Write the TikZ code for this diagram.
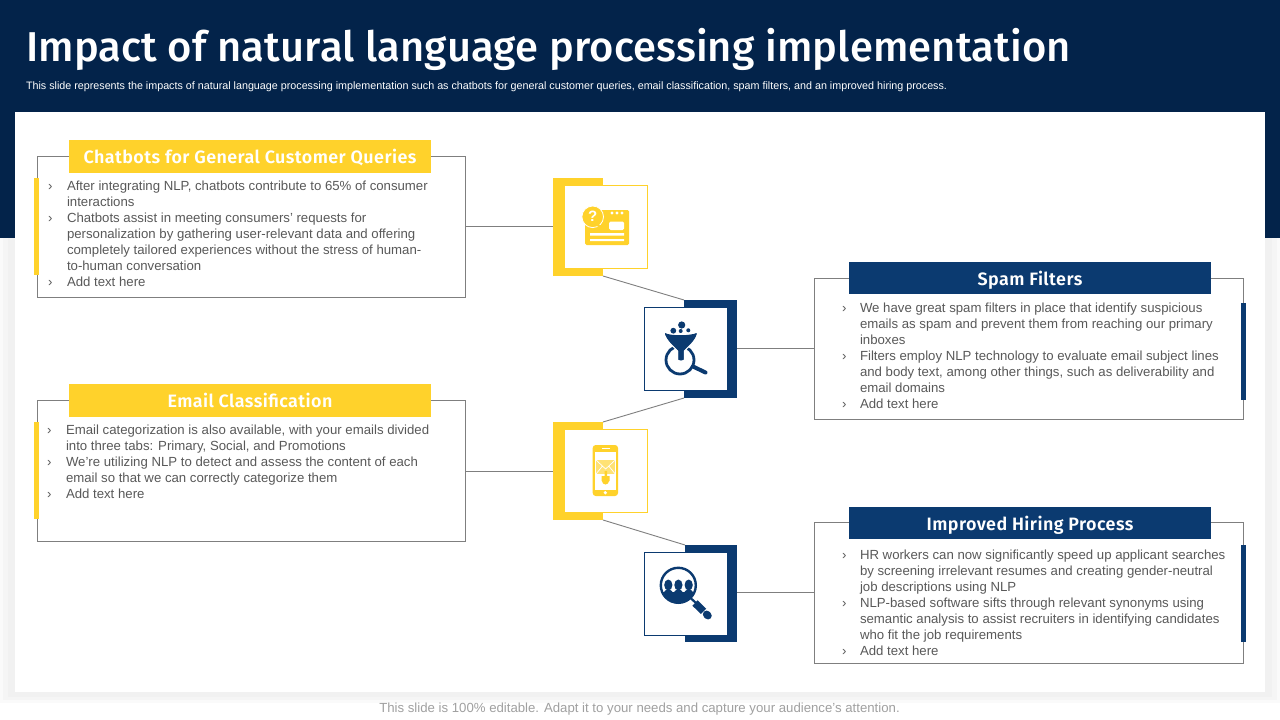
\documentclass[tikz,border=0pt]{standalone}
\usepackage{fontspec}
\setmainfont{Liberation Sans}
\newfontfamily\titlefont[LetterSpace=0.4]{Fira Sans Medium}
\newfontfamily\headfont[LetterSpace=2.5]{Fira Sans SemiBold}
\usetikzlibrary{calc}
\definecolor{topnavy}{HTML}{03234A}
\definecolor{navy}{HTML}{0B3A70}
\definecolor{gold}{HTML}{FFD22B}
\definecolor{rulegrey}{HTML}{7F7F7F}
\definecolor{bodygrey}{HTML}{595959}
\definecolor{footgrey}{HTML}{A0A0A0}
\definecolor{shadeA}{HTML}{FAFAFA}
\definecolor{shadeB}{HTML}{F5F5F5}
\definecolor{shadeC}{HTML}{F1F1F1}
\newcommand{\bl}{\llap{\makebox[19pt][l]{\textcolor{bodygrey}{›}}}}
\newcommand{\blx}{\llap{\makebox[18pt][l]{\textcolor{bodygrey}{›}}}}
\tikzset{
  x=1pt,y=-1pt,
  plain/.style={inner sep=0pt,outer sep=0pt,minimum width=#1},
  box/.style={draw=rulegrey,line width=1pt,fill=white,inner sep=0pt,outer sep=0pt},
  headbar/.style={fill=#1,inner sep=0pt,outer sep=0pt,minimum width=362pt,minimum height=33pt,text=white,text height=14.6pt,text depth=0pt,font=\headfont\fontsize{17.9}{20}\selectfont},
  sidebar/.style={fill=#1,inner sep=0pt,outer sep=0pt,minimum width=5pt,minimum height=97pt},
  body/.style={inner sep=0pt,outer sep=0pt,anchor=north west,align=left,text=bodygrey,font=\fontsize{13.2}{16}\selectfont},
  backblock/.style={fill=#1,inner sep=0pt,outer sep=0pt},
  iconsq/.style={draw=#1,fill=white,line width=1pt,inner sep=0pt,outer sep=0pt,minimum width=83pt,minimum height=83pt},
  conn/.style={draw=rulegrey,line width=0.9pt},
}
\begin{document}
\begin{tikzpicture}
\useasboundingbox (0,0) rectangle (1280,720);
% backdrop
\fill[white] (0,0) rectangle (1280,720);
\fill[shadeA] (0,238) rectangle (1280,703);
\fill[shadeB] (3,238) rectangle (1277,700);
\fill[shadeC] (8,238) rectangle (1272,697);
\fill[topnavy] (0,0) rectangle (1280,238);
\fill[white] (15,112) rectangle (1265,692);
% title
\node[plain=0pt,anchor=west,text=white,font=\titlefont\fontsize{41.7}{48}\selectfont] (title) at (26,49.5) {Impact of natural language processing implementation};
\node[plain=0pt,anchor=west,text=white,font=\fontsize{10.74}{12}\selectfont] (subtitle) at (26,87) {This slide represents the impacts of natural language processing implementation such as chatbots for general customer queries, email classification, spam filters, and an improved hiring process.};
\node[plain=0pt,text=footgrey,font=\fontsize{13.2}{14}\selectfont] (foot) at (639.5,709) {This slide is 100\% editable. Adapt it to your needs and capture your audience's attention.};

% text boxes
\node[box,minimum width=428pt,minimum height=141pt] (b1) at (251.5,226.5) {};
\node[box,minimum width=428pt,minimum height=141pt] (b2) at (251.5,471) {};
\node[box,minimum width=429pt,minimum height=141pt] (b3) at (1029,348.75) {};
\node[box,minimum width=429pt,minimum height=141pt] (b4) at (1029,592.75) {};

\node[headbar=gold] (h1) at (250,156.5) {Chatbots for General Customer Queries};
\node[headbar=gold] (h2) at (250,400.5) {Email Classification};
\node[headbar=navy,minimum height=32pt] (h3) at (1030,278) {Spam Filters};
\node[headbar=navy,minimum height=32pt] (h4) at (1030,523) {Improved Hiring Process};

\node[sidebar=gold] (s1) at (36.5,226.5) {};
\node[sidebar=gold] (s2) at (36.5,470.5) {};
\node[sidebar=navy] (s3) at (1243.5,351) {};
\node[sidebar=navy] (s4) at (1243.5,593) {};

\node[body] (t1) at (67,180.5) {\bl After integrating NLP, chatbots contribute to 65\% of consumer\\interactions\\\bl Chatbots assist in meeting consumers' requests for\\personalization by gathering user-relevant data and offering\\completely tailored experiences without the stress of human-\\to-human conversation\\\bl Add text here};
\node[body] (t2) at (66,425) {\bl Email categorization is also available, with your emails divided\\into three tabs: Primary, Social, and Promotions\\\bl We're utilizing NLP to detect and assess the content of each\\email so that we can correctly categorize them\\\bl Add text here};
\node[body] (t3) at (860,303) {\blx We have great spam filters in place that identify suspicious\\emails as spam and prevent them from reaching our primary\\inboxes\\\blx Filters employ NLP technology to evaluate email subject lines\\and body text, among other things, such as deliverability and\\email domains\\\blx Add text here};
\node[body] (t4) at (860,550) {\blx HR workers can now significantly speed up applicant searches\\by screening irrelevant resumes and creating gender-neutral\\job descriptions using NLP\\\blx NLP-based software sifts through relevant synonyms using\\semantic analysis to assist recruiters in identifying candidates\\who fit the job requirements\\\blx Add text here};

% icon blocks
\node[backblock=gold,minimum width=50pt,minimum height=98pt] (y1) at (578,227) {};
\node[backblock=gold,minimum width=50pt,minimum height=98pt] (y2) at (578,471) {};
\node[backblock=navy,minimum width=53pt,minimum height=98pt] (n1) at (710.5,349) {};
\node[backblock=navy,minimum width=52pt,minimum height=97pt] (n2) at (711,593.5) {};
\node[iconsq=gold] (q1) at (606,227) {};
\node[iconsq=gold] (q2) at (606,471) {};
\node[iconsq=navy] (q3) at (686,349) {};
\node[iconsq=navy] (q4) at (686,593.5) {};

% connectors
\draw[conn] (b1.east) -- (b1.east -| y1.west);
\draw[conn] (b2.east) -- (b2.east -| y2.west);
\draw[conn] (b3.west -| n1.east) -- (b3.west);
\draw[conn] (b4.west -| n2.east) -- (b4.west);
\draw[conn] (y1.south east) -- (n1.north west);
\draw[conn] (y2.north east) -- (n1.south west);
\draw[conn] (y2.south east) -- (n2.north west);

% icon 1: browser with question bubble
\fill[gold,rounded corners=1.5pt] (585,210) rectangle (629,245);
\fill[white] (612,213) circle (1.6) (617,213) circle (1.6) (622,213) circle (1.6);
\fill[white,rounded corners=1.5pt] (609,221.5) rectangle (624,230);
\fill[white] (590,233) rectangle (624,235.7) (590,239) rectangle (624,241.2);
\filldraw[gold,draw=white,line width=0.8pt] (592.7,216.8) circle (10.8);
\fill[gold] (596,221) -- (602,228) -- (591,224) -- cycle;
\node[plain=0pt,text=white,font=\bfseries\fontsize{15}{15}\selectfont] (qm) at (592.7,216.5) {?};

% icon 2: funnel and magnifier
\draw[navy,line width=2.8pt] (680,360) circle (14);
\draw[navy,line width=4pt,line cap=round] (693,366.5) -- (705.5,372.5);
\filldraw[navy,draw=white,line width=1.6pt] (663.5,332) .. controls (670,336) and (690,336) .. (698,332) .. controls (697,340) and (688,346) .. (684.5,351) -- (684.5,361) -- (677.5,361) -- (677.5,351) .. controls (674,346) and (665,340) .. (663.5,332) -- cycle;
\fill[navy] (665,333) .. controls (670,336) and (690,336) .. (696.7,333) .. controls (696,340) and (688,346) .. (683.5,351) -- (683.5,359) .. controls (683,361) and (679,361) .. (678.5,359) -- (678.5,351) .. controls (674,346) and (666,340) .. (665,333) -- cycle;
\fill[navy] (681.7,325) circle (3.6) (673.3,330.7) circle (2.9) (688.3,330.3) circle (2) (680.7,331) circle (2);

% icon 3: phone with envelope
\fill[gold,rounded corners=3pt] (592.7,445) rectangle (618,496);
\fill[white] (595,451.5) rectangle (616,489.5);
\fill[white] (601.5,447.7) rectangle (609.5,448.8);
\fill[white] (605.3,492.7) circle (1.8);
\fill[gold!65!white] (596,460) rectangle (615.3,474);
\draw[white,line width=0.7pt] (596,460) -- (605.6,469) -- (615.3,460) (596,474) -- (602.5,466) (615.3,474) -- (608.7,466);
\fill[gold] (604.5,471) rectangle (607,478) (601.5,476) rectangle (609.5,481);
\fill[gold] (605.5,481) circle (3.5);

% icon 4: people under magnifier
\draw[navy,line width=2.2pt] (690,597.5) -- (696,603);
\draw[navy,line width=7.5pt] (695,603) -- (703.5,611.3);
\draw[navy,line width=7.5pt,line cap=round] (706.6,614.3) -- (708,615.7);
\fill[white] (678.3,585.3) circle (18);
\begin{scope}
\clip (678.3,585.3) circle (18);
\fill[navy] (660,592) rectangle (697,604);
\foreach \hx in {668.3,678.4,688.7}{
  \fill[navy] (\hx,585) ellipse (4.1 and 5.5);
  \fill[navy] (\hx-5,593) .. controls (\hx-4.5,590.5) and (\hx-2,590.5) .. (\hx,589) .. controls (\hx+2,590.5) and (\hx+4.5,590.5) .. (\hx+5,593) -- cycle;
}
\end{scope}
\draw[navy,line width=2.4pt] (678.3,585.3) circle (17.5);
\end{tikzpicture}
\end{document}
